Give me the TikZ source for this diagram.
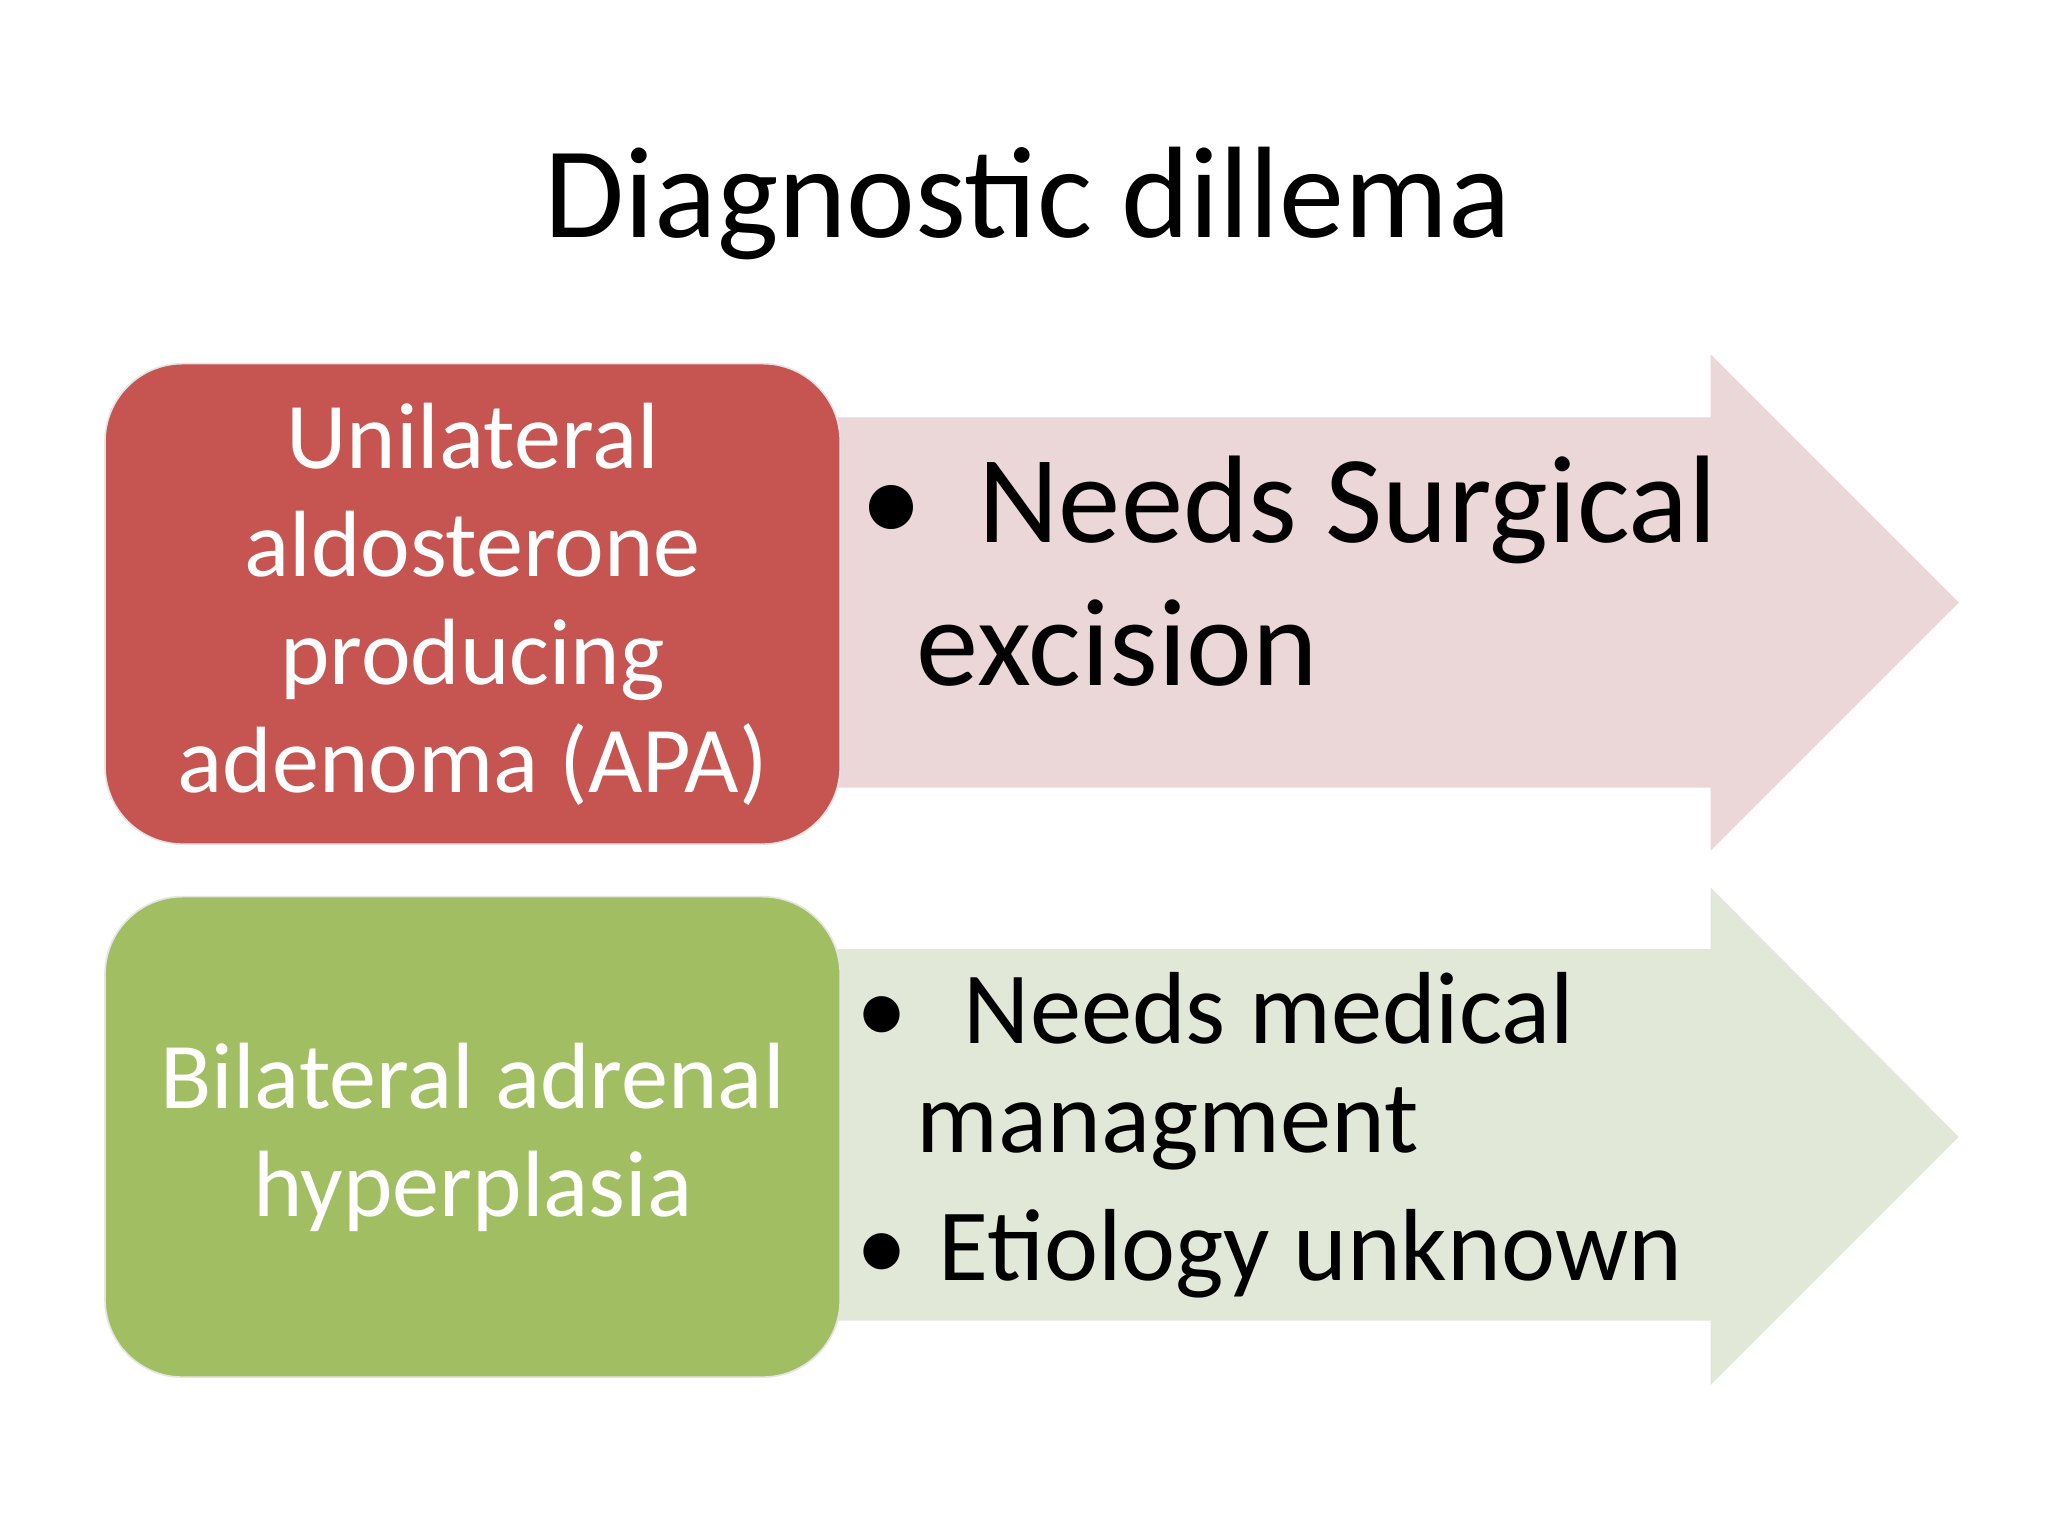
\documentclass[tikz,border=0pt]{standalone}
\usepackage{fontspec}
\setmainfont{Carlito}
\usetikzlibrary{positioning}
\definecolor{apared}{HTML}{C65450}
\definecolor{apapink}{HTML}{EBD6D8}
\definecolor{bahgreen}{HTML}{A1BF62}
\definecolor{bahpale}{HTML}{E1E8D8}
\newlength{\pxunit}\setlength{\pxunit}{0.016667cm}
\tikzset{
  box/.style={rounded corners=28pt, minimum width=560\pxunit, minimum height=366\pxunit,
    text=white, align=center, font=\fontsize{34}{39}\selectfont, inner sep=0pt, draw=white!90!black, line width=0.6pt},
  line/.style={anchor=base west, inner sep=0pt, text=black}
}
\begin{document}
\begin{tikzpicture}[x=\pxunit, y=-\pxunit]
  \useasboundingbox (0,0) rectangle (1560,1170);
  \fill[white] (0,0) rectangle (1560,1170);
  % title
  \node (title) at (783,155) {\fontsize{47}{50}\selectfont Diagnostic dillema};
  % arrows
  \fill[apapink] (600,318) -- (1303,318) -- (1303,270) -- (1492,459) -- (1303,648) -- (1303,600) -- (600,600) -- cycle;
  \fill[bahpale] (600,723) -- (1303,723) -- (1303,676) -- (1492,866) -- (1303,1055) -- (1303,1006) -- (600,1006) -- cycle;
  % boxes
  \node[box, fill=apared] (apa) at (360,460) {Unilateral\\aldosterone\\producing\\adenoma (APA)};
  \node[box, fill=bahgreen] (bah) at (360,866) {Bilateral adrenal\\hyperplasia};
  % texts on the arrows
  \begin{scope}[font=\fontsize{45}{50}\selectfont]
    \node[line] (surg) at (655,413) {\textbullet\hspace{0.45em}Needs Surgical};
    \node[line] (exc) at (698,522) {excision};
  \end{scope}
  \begin{scope}[font=\fontsize{37}{42}\selectfont]
    \node[line] (med) at (652,795) {\textbullet\hspace{0.55em}Needs medical};
    \node[line] (mgmt) at (698,878) {managment};
    \node[line] (etio) at (652,975) {\textbullet\hspace{0.3em}Etiology unknown};
  \end{scope}
\end{tikzpicture}
\end{document}
